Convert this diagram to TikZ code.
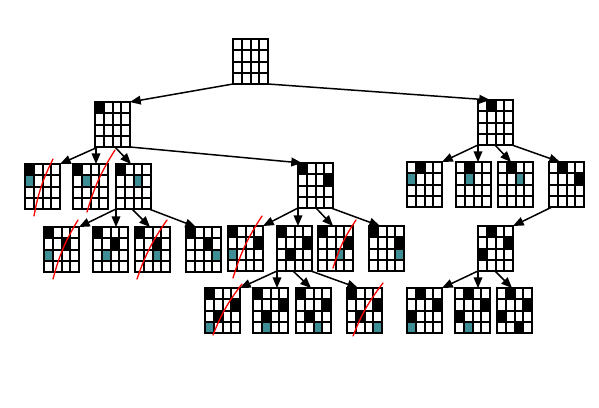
\documentclass[tikz,border=0pt]{standalone}
\usepackage{tikz}
\usetikzlibrary{calc}
\usetikzlibrary{arrows}
\definecolor{conflict}{RGB}{62,142,150}

\tikzset{
  boardbox/.style={anchor=north west, minimum width=35pt, minimum height=45pt, inner sep=0pt, outer sep=0pt},
  cell/.style={line width=2pt, line cap=rect},
  move/.style={line width=1.5pt, -triangle 45},
  cross/.style={red, line width=1.3pt, line cap=round}
}

% #1 name, #2 top left corner, #3 queens row/col, #4 tried square row/col
\newcommand{\qboard}[4]{%
  \node[boardbox] (#1) at (#2) {};
  \begin{scope}[shift={(#1.north west)}]
    \if\relax\detokenize{#3}\relax\else
      \foreach \r/\c in {#3} \fill[black] (\c*8.75-8.75, \r*11.25-11.25) rectangle +(8.75,11.25);
    \fi
    \if\relax\detokenize{#4}\relax\else
      \foreach \r/\c in {#4} \fill[conflict] (\c*8.75-8.75, \r*11.25-11.25) rectangle +(8.75,11.25);
    \fi
    \foreach \k in {0,...,4} {
      \draw[cell] (\k*8.75, 0) -- (\k*8.75, 45);
      \draw[cell] (0, \k*11.25) -- (35, \k*11.25);
    }
  \end{scope}}

\begin{document}
\begin{tikzpicture}[x=1pt, y=-1pt]
\useasboundingbox (0,0) rectangle (599,407);

% levels 0 and 1
\qboard{root}{233,39}{}{}
\qboard{L}{95,102}{1/1}{}
\qboard{R}{478,100}{1/2}{}

% level 2
\qboard{A}{25,164}{1/1}{2/1}
\qboard{B}{73,164}{1/1}{2/2}
\qboard{C}{116,164}{1/1}{2/3}
\qboard{D}{298,163}{1/1,2/4}{}
\qboard{R1}{407,162}{1/2}{2/1}
\qboard{R2}{456,162}{1/2}{2/2}
\qboard{R3}{498,162}{1/2}{2/3}
\qboard{R4}{549,162}{1/2,2/4}{}

% level 3
\qboard{C1}{44,227}{1/1,2/3}{3/1}
\qboard{C2}{93,227}{1/1,2/3}{3/2}
\qboard{C3}{135,227}{1/1,2/3}{3/3}
\qboard{C4}{186,227}{1/1,2/3}{3/4}
\qboard{D1}{228,226}{1/1,2/4}{3/1}
\qboard{D2}{277,226}{1/1,2/4,3/2}{}
\qboard{D3}{318,226}{1/1,2/4}{3/3}
\qboard{D4}{369,226}{1/1,2/4}{3/4}
\qboard{G}{478,226}{1/2,2/4,3/1}{}

% level 4
\qboard{E1}{205,288}{1/1,2/4,3/2}{4/1}
\qboard{E2}{253,288}{1/1,2/4,3/2}{4/2}
\qboard{E3}{296,288}{1/1,2/4,3/2}{4/3}
\qboard{E4}{347,288}{1/1,2/4,3/2}{4/4}
\qboard{F1}{407,288}{1/2,2/4,3/1}{4/1}
\qboard{F2}{455,288}{1/2,2/4,3/1}{4/2}
\qboard{F3}{497,288}{1/2,2/4,3/1,4/3}{}

% moves
\draw [move] (root.south west) -- (L.north east);
\draw [move] (root.south east) -- ($(R.north west)+(12,0)$);

\draw [move] ($(L.south west)+(3,0)$) -- (A.north east);
\draw [move] ($(L.south west)+(1,0)$) -- ($(B.north west)+(23,0)$);
\draw [move] ($(L.south west)+(20,0)$) -- ($(C.north west)+(15,0)$);
\draw [move] (L.south east) -- ($(D.north west)+(4,0)$);

\draw [move] (C.south west) -- (C1.north east);
\draw [move] (C.south west) -- ($(C2.north west)+(23,0)$);
\draw [move] ($(C.south west)+(16,0)$) -- ($(C3.north west)+(15,0)$);
\draw [move] ($(C.south west)+(33,0)$) -- ($(C4.north west)+(10,0)$);

\draw [move] (D.south west) -- (D1.north east);
\draw [move] (D.south west) -- ($(D2.north west)+(21,0)$);
\draw [move] ($(D.south west)+(18,0)$) -- ($(D3.north west)+(15,0)$);
\draw [move] ($(D.south west)+(33,0)$) -- ($(D4.north west)+(11,0)$);

\draw [move] (D2.south west) -- (E1.north east);
\draw [move] (D2.south west) -- ($(E2.north west)+(24,0)$);
\draw [move] ($(D2.south west)+(16,0)$) -- ($(E3.north west)+(15,0)$);
\draw [move] ($(D2.south west)+(34,0)$) -- ($(E4.north west)+(11,0)$);

\draw [move] (R.south west) -- (R1.north east);
\draw [move] (R.south west) -- ($(R2.north west)+(22,0)$);
\draw [move] ($(R.south west)+(17,0)$) -- ($(R3.north west)+(13,0)$);
\draw [move] ($(R.south west)+(34,0)$) -- ($(R4.north west)+(11,0)$);

\draw [move] ($(R4.south west)+(3,0)$) -- (G.north east);
\draw [move] (G.south west) -- (F1.north east);
\draw [move] (G.south west) -- ($(F2.north west)+(23,0)$);
\draw [move] ($(G.south west)+(17,0)$) -- ($(F3.north west)+(15,0)$);

% dead ends
\draw [cross] ($(A.north west)+(9,52)$) to[bend left=8] ($(A.north west)+(28,-5)$);
\draw [cross] ($(B.north west)+(14,48)$) to[bend left=8] ($(B.north west)+(42,-14)$);
\draw [cross] ($(C1.north west)+(9,52)$) to[bend left=8] ($(C1.north west)+(34,-7)$);
\draw [cross] ($(C3.north west)+(2,52)$) to[bend left=8] ($(C3.north west)+(32,-7)$);
\draw [cross] ($(D1.north west)+(5,52)$) to[bend left=8] ($(D1.north west)+(34,-10)$);
\draw [cross] ($(D3.north west)+(15,42)$) to[bend left=8] ($(D3.north west)+(38,-6)$);
\draw [cross] ($(E1.north west)+(8,47)$) to[bend left=8] ($(E1.north west)+(37,-4)$);
\draw [cross] ($(E4.north west)+(6,48)$) to[bend left=8] ($(E4.north west)+(36,-5)$);

\end{tikzpicture}
\end{document}
